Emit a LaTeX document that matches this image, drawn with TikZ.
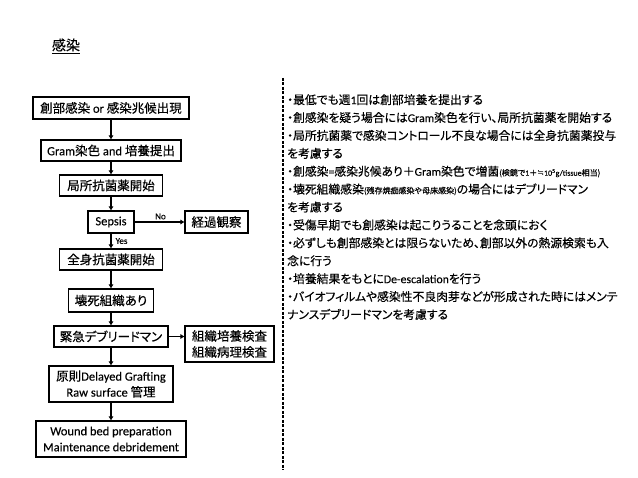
\documentclass[tikz,border=0pt]{standalone}
\usepackage{fontspec}
\setmainfont{Noto Sans CJK JP}[RawFeature=+palt,FakeBold=0.35]
\newfontfamily\latf{Carlito}[FakeBold=0.15]
\newfontfamily\symf{DejaVu Sans}
\newcommand\Lat[1]{{\latf #1}}
\newcommand\jbox{\fontsize{12.5}{16}\selectfont}
\usetikzlibrary{arrows.meta}
\begin{document}
\begin{tikzpicture}[x=1pt,y=-1pt,
  box/.style={draw=black,line width=1.3pt,inner sep=0pt,align=center,font=\jbox},
  arr/.style={line width=1.3pt,-{Triangle[length=4pt,width=4.5pt]}},
  lab/.style={inner sep=0pt,font=\latf\fontsize{9}{10}\selectfont}]
\fill[white] (0,0) rectangle (638,478);
\useasboundingbox (0,0) rectangle (638,478);
\node[inner sep=0pt,font=\fontsize{14}{16}\selectfont] (title) at (66,46) {\underline{感染}};
\node[box,minimum width=156pt,minimum height=22pt] (b1) at (111,108) {創部感染\Lat{ or }感染兆候出現};
\node[box,minimum width=140pt,minimum height=21pt] (b2) at (111,150.5) {\Lat{Gram}染色\Lat{ and }培養提出};
\node[box,minimum width=103pt,minimum height=21pt] (b3) at (111,185.5) {局所抗菌薬開始};
\node[box,minimum width=46pt,minimum height=22pt] (sep) at (111,222) {\Lat{Sepsis}};
\node[box,minimum width=63pt,minimum height=22pt] (obs) at (216.5,222) {経過観察};
\node[box,minimum width=103pt,minimum height=21pt] (zen) at (111,259.5) {全身抗菌薬開始};
\node[box,minimum width=85pt,minimum height=23pt] (nec) at (111,300.5) {壊死組織あり};
\node[box,minimum width=114pt,minimum height=21pt] (kin) at (111,336.5) {緊急デブリードマン};
\node[box,minimum width=89pt,minimum height=36pt] (tis) at (229.5,344) {組織培養検査\\組織病理検査};
\node[box,minimum width=124pt,minimum height=36pt] (gen) at (111,384) {原則\Lat{Delayed Grafting}\\\Lat{Raw surface }管理};
\node[box,minimum width=150pt,minimum height=36pt,font=\latf\fontsize{12.5}{16}\selectfont] (wb) at (111,439) {Wound bed preparation\\Maintenance debridement};
\draw[arr] (b1) -- (b2);
\draw[arr] (b2) -- (b3);
\draw[arr] (b3) -- (sep);
\draw[arr] (sep) -- (obs) node[lab,midway,above=2pt,xshift=1pt] (no) {No};
\draw[arr] (sep) -- (zen) node[lab,midway,right=4pt] (yes) {Yes};
\draw[arr] (zen) -- (nec);
\draw[arr] (nec) -- (kin);
\draw[arr] (kin.east) -- (kin.east -| tis.west);
\draw[arr] (kin) -- (gen);
\draw[arr] (gen) -- (wb);
\coordinate (d1) at (283,78);
\coordinate (d2) at (283,470);
\draw[line width=1.2pt,dash pattern=on 3pt off 1.5pt] (d1) -- (d2);
\node[anchor=north west,inner sep=0pt,align=left,font=\fontsize{11.8}{17.9}\selectfont] (notes) at (287,94) {%
・最低でも週\Lat{1}回は創部培養を提出する\\
・創感染を疑う場合には\Lat{Gram}染色を行い、局所抗菌薬を開始する\\
・局所抗菌薬で感染コントロール不良な場合には全身抗菌薬投与\\
を考慮する\\
・創感染\Lat{=}感染兆候あり＋\Lat{Gram}染色で増菌{\fontsize{8}{9}\selectfont(検鏡で\Lat{1}＋{\symf ≒}\Lat{10\textsuperscript{5}g/tissue}相当)}\\
・壊死組織感染{\fontsize{8}{9}\selectfont(残存焼痂感染や母床感染)}の場合にはデブリードマン\\
を考慮する\\
・受傷早期でも創感染は起こりうることを念頭におく\\
・必ずしも創部感染とは限らないため、創部以外の熱源検索も入\\
念に行う\\
・培養結果をもとに\Lat{De-escalation}を行う\\
・バイオフィルムや感染性不良肉芽などが形成された時にはメンテ\\
ナンスデブリードマンを考慮する};
\end{tikzpicture}
\end{document}
